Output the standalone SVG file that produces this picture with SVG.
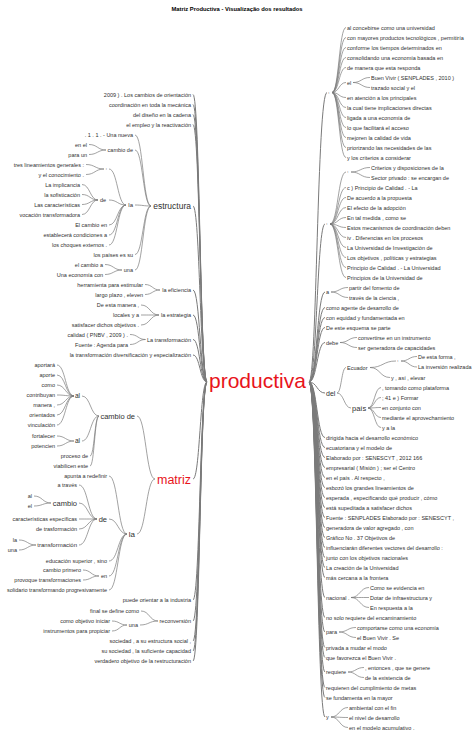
<svg xmlns="http://www.w3.org/2000/svg" width="474" height="738" viewBox="0 0 474 738">
<style>
.c{fill:none;stroke:#7a7a7a;stroke-width:.7}
.c1{stroke-width:1}
.t{font-family:"Liberation Sans",Arial,sans-serif;font-size:5.5px;fill:#303030}
.e{text-anchor:end}
.m{font-size:7.5px}
.red{fill:#e8141b}
.title{font-family:"Liberation Sans",Arial,sans-serif;font-size:5.8px;font-weight:bold;fill:#000;text-anchor:middle}
</style>
<rect width="474" height="738" fill="#fff"/>
<text class="title" x="237" y="11">Matriz Productiva - Visualização dos resultados</text>
<g id="connectors">
<path class="c c1" d="M309 382C317 382 317 92.5 327 92.5M309 382C317 382 317 224 325 224M309 382C317 382 317 292 325 292M309 382C317 382 317 307.5 325 307.5M309 382C317 382 317 317.5 325 317.5M309 382C317 382 317 327.5 325 327.5M309 382C317 382 317 342.5 325 342.5M309 382C317 382 317 393 325 393M309 382C317 382 317 437.5 325 437.5M309 382C317 382 317 447.5 325 447.5M309 382C317 382 317 457.5 325 457.5M309 382C317 382 317 467.5 325 467.5M309 382C317 382 317 477.5 325 477.5M309 382C317 382 317 487.5 325 487.5M309 382C317 382 317 497.5 325 497.5M309 382C317 382 317 507.5 325 507.5M309 382C317 382 317 517.5 325 517.5M309 382C317 382 317 527.5 325 527.5M309 382C317 382 317 537.5 325 537.5M309 382C317 382 317 547.5 325 547.5M309 382C317 382 317 557.5 325 557.5M309 382C317 382 317 567.5 325 567.5M309 382C317 382 317 577.5 325 577.5M309 382C317 382 317 597.5 325 597.5M309 382C317 382 317 617.5 325 617.5M309 382C317 382 317 632 325 632M309 382C317 382 317 647.5 325 647.5M309 382C317 382 317 657.5 325 657.5M309 382C317 382 317 672 325 672M309 382C317 382 317 687.5 325 687.5M309 382C317 382 317 697.5 325 697.5M309 382C317 382 317 717 325 717"/>
<path class="c" d="M332 92.5C339 92.5 339 27.5 346 27.5M332 92.5C339 92.5 339 37.5 346 37.5M332 92.5C339 92.5 339 47.5 346 47.5M332 92.5C339 92.5 339 57.5 346 57.5M332 92.5C339 92.5 339 67.5 346 67.5M332 92.5C339 92.5 339 82.5 346 82.5M332 92.5C339 92.5 339 97.5 346 97.5M332 92.5C339 92.5 339 107.5 346 107.5M332 92.5C339 92.5 339 117.5 346 117.5M332 92.5C339 92.5 339 127.5 346 127.5M332 92.5C339 92.5 339 137.5 346 137.5M332 92.5C339 92.5 339 147.5 346 147.5M332 92.5C339 92.5 339 157.5 346 157.5"/>
<path class="c" d="M353 82.5C361.5 82.5 361.5 77.5 370 77.5M353 82.5C361.5 82.5 361.5 87.5 370 87.5"/>
<path class="c" d="M330 224C338 224 338 172 346 172M330 224C338 224 338 187.5 346 187.5M330 224C338 224 338 197.5 346 197.5M330 224C338 224 338 207.5 346 207.5M330 224C338 224 338 217.5 346 217.5M330 224C338 224 338 227.5 346 227.5M330 224C338 224 338 237.5 346 237.5M330 224C338 224 338 247.5 346 247.5M330 224C338 224 338 257.5 346 257.5M330 224C338 224 338 267.5 346 267.5M330 224C338 224 338 277.5 346 277.5"/>
<path class="c" d="M351 172C360.5 172 360.5 167.5 370 167.5M351 172C360.5 172 360.5 177.5 370 177.5"/>
<path class="c" d="M331 292C339.5 292 339.5 287.5 348 287.5M331 292C339.5 292 339.5 297.5 348 297.5"/>
<path class="c" d="M340 342.5C348.5 342.5 348.5 337.5 357 337.5M340 342.5C348.5 342.5 348.5 347.5 357 347.5"/>
<path class="c" d="M337 393C341.5 393 341.5 367.5 346 367.5M337 393C344 393 344 408 351 408"/>
<path class="c" d="M370 367.5C383 367.5 383 361 396 361M370 367.5C380 367.5 380 377.5 390 377.5"/>
<path class="c" d="M401 361C409 361 409 356.5 417 356.5M401 361C409 361 409 367 417 367"/>
<path class="c" d="M368 408C374.5 408 374.5 387.5 381 387.5M368 408C374.5 408 374.5 397.5 381 397.5M368 408C374.5 408 374.5 407.5 381 407.5M368 408C374.5 408 374.5 417.5 381 417.5M368 408C374.5 408 374.5 427.5 381 427.5"/>
<path class="c" d="M351 597.5C360 597.5 360 587.5 369 587.5M351 597.5C360 597.5 360 597.5 369 597.5M351 597.5C360 597.5 360 607.5 369 607.5"/>
<path class="c" d="M339 632C347.5 632 347.5 627.5 356 627.5M339 632C347.5 632 347.5 637.5 356 637.5"/>
<path class="c" d="M348 672C356 672 356 667.5 364 667.5M348 672C356 672 356 677.5 364 677.5"/>
<path class="c" d="M331 717C339.5 717 339.5 707.5 348 707.5M331 717C339.5 717 339.5 717.5 348 717.5M331 717C339.5 717 339.5 727.5 348 727.5"/>
<path class="c c1" d="M207 382C200 382 200 94.5 193 94.5M207 382C200 382 200 104.5 193 104.5M207 382C200 382 200 114.5 193 114.5M207 382C200 382 200 124.5 193 124.5M207 382C200 382 200 206 193 206M207 382C200 382 200 290 193 290M207 382C200 382 200 315 193 315M207 382C200 382 200 339.5 193 339.5M207 382C200 382 200 355 193 355M207 382C200 382 200 479 193 479M207 382C200 382 200 600 193 600M207 382C200 382 200 621 193 621M207 382C200 382 200 641 193 641M207 382C200 382 200 651 193 651M207 382C200 382 200 661 193 661"/>
<path class="c" d="M151 206C143 206 143 135 135 135M151 206C143 206 143 150 135 150M151 206C143 206 143 205 135 205M151 206C143 206 143 254.5 135 254.5M151 206C143 206 143 270 135 270"/>
<path class="c" d="M106 150C97.5 150 97.5 144.5 89 144.5M106 150C97.5 150 97.5 154.5 89 154.5"/>
<path class="c" d="M126 205C117.5 205 117.5 169 109 169M126 205C117.5 205 117.5 200 109 200M126 205C117.5 205 117.5 225 109 225M126 205C117.5 205 117.5 235 109 235M126 205C117.5 205 117.5 245 109 245"/>
<path class="c" d="M104 169C95 169 95 164.5 86 164.5M104 169C95 169 95 174.5 86 174.5"/>
<path class="c" d="M98 200C90 200 90 184.5 82 184.5M98 200C90 200 90 194.5 82 194.5M98 200C90 200 90 204.5 82 204.5M98 200C90 200 90 214.5 82 214.5"/>
<path class="c" d="M122 270C113.5 270 113.5 264.5 105 264.5M122 270C113.5 270 113.5 274.5 105 274.5"/>
<path class="c" d="M160 290C152.5 290 152.5 284.5 145 284.5M160 290C152.5 290 152.5 294.5 145 294.5"/>
<path class="c" d="M159 315C150 315 150 305 141 305M159 315C150 315 150 315 141 315M159 315C150 315 150 325 141 325"/>
<path class="c" d="M145.5 339.5C138 339.5 138 334.5 130 334.5M145.5 339.5C138 339.5 138 344.5 130 344.5"/>
<path class="c" d="M155 479C146 479 146 416 137 416M155 479C146 479 146 534 137 534"/>
<path class="c" d="M99 416C90.5 416 90.5 396 82 396M99 416C90.5 416 90.5 441 82 441M99 416C94.5 416 94.5 456 90 456M99 416C94.5 416 94.5 466 90 466"/>
<path class="c" d="M74 396C65.5 396 65.5 365 57 365M74 396C65.5 396 65.5 375 57 375M74 396C65.5 396 65.5 385 57 385M74 396C65.5 396 65.5 395 57 395M74 396C65.5 396 65.5 405 57 405M74 396C65.5 396 65.5 415 57 415M74 396C65.5 396 65.5 425 57 425"/>
<path class="c" d="M74 441C65.5 441 65.5 436 57 436M74 441C65.5 441 65.5 446 57 446"/>
<path class="c" d="M127 534C118 534 118 476 109 476M127 534C118 534 118 519 109 519M127 534C118 534 118 561 109 561M127 534C118 534 118 576 109 576M127 534C118 534 118 590 109 590"/>
<path class="c" d="M97 519C88 519 88 485 79 485M97 519C88 519 88 503 79 503M97 519C88 519 88 519 79 519M97 519C88 519 88 529 79 529M97 519C88 519 88 545 79 545"/>
<path class="c" d="M51 503C42.5 503 42.5 496 34 496M51 503C42.5 503 42.5 506 34 506"/>
<path class="c" d="M36 545C27.5 545 27.5 540 19 540M36 545C27.5 545 27.5 550 19 550"/>
<path class="c" d="M99 576C91 576 91 570 83 570M99 576C91 576 91 580 83 580"/>
<path class="c" d="M158 621C149.5 621 149.5 611 141 611M158 621C149 621 149 625 140 625"/>
<path class="c" d="M127 625C119.5 625 119.5 621 112 621M127 625C119.5 625 119.5 631 112 631"/>
</g>
<g id="center"><text x="209" y="388" class="red" style="font-family:'Liberation Sans',Arial,sans-serif;font-size:21px">productiva</text></g>
<g id="r1"><text class="t" x="328" y="92.5">,</text></g>
<g id="r1a"><text class="t" x="347" y="29.5">al concebirse como una universidad</text></g>
<g id="r1b"><text class="t" x="347" y="39.5">con mayores productos tecnológicos , permitiría</text></g>
<g id="r1c"><text class="t" x="347" y="49.5">conforme los tiempos determinados en</text></g>
<g id="r1d"><text class="t" x="347" y="59.5">consolidando una economía basada en</text></g>
<g id="r1e"><text class="t" x="347" y="69.5">de manera que esta responda</text></g>
<g id="r1f"><text class="t" x="347" y="84.5">el</text></g>
<g id="r1f1"><text class="t" x="371" y="79.5">Buen Vivir ( SENPLADES , 2010 )</text></g>
<g id="r1f2"><text class="t" x="371" y="89.5">trazado social y el</text></g>
<g id="r1g"><text class="t" x="347" y="99.5">en atención a los principales</text></g>
<g id="r1h"><text class="t" x="347" y="109.5">la cual tiene implicaciones directas</text></g>
<g id="r1i"><text class="t" x="347" y="119.5">ligada a una economía de</text></g>
<g id="r1j"><text class="t" x="347" y="129.5">lo que facilitará el acceso</text></g>
<g id="r1k"><text class="t" x="347" y="139.5">mejoren la calidad de vida</text></g>
<g id="r1l"><text class="t" x="347" y="149.5">priorizando las necesidades de las</text></g>
<g id="r1m"><text class="t" x="347" y="159.5">y los criterios a considerar</text></g>
<g id="r2"><text class="t" x="326" y="224">,</text></g>
<g id="r2a"><text class="t" x="347" y="172">,</text></g>
<g id="r2a1"><text class="t" x="371" y="169.5">Criterios y disposiciones de la</text></g>
<g id="r2a2"><text class="t" x="371" y="179.5">Sector privado : se encargan de</text></g>
<g id="r2b"><text class="t" x="347" y="189.5">c ) Principio de Calidad . - La</text></g>
<g id="r2c"><text class="t" x="347" y="199.5">De acuerdo a la propuesta</text></g>
<g id="r2d"><text class="t" x="347" y="209.5">El efecto de la adopción</text></g>
<g id="r2e"><text class="t" x="347" y="219.5">En tal medida , como se</text></g>
<g id="r2f"><text class="t" x="347" y="229.5">Estos mecanismos de coordinación deben</text></g>
<g id="r2g"><text class="t" x="347" y="239.5">iv . Diferencias en los procesos</text></g>
<g id="r2h"><text class="t" x="347" y="249.5">La Universidad de Investigación de</text></g>
<g id="r2i"><text class="t" x="347" y="259.5">Los objetivos , políticas y estrategias</text></g>
<g id="r2j"><text class="t" x="347" y="269.5">Principio de Calidad . - La Universidad</text></g>
<g id="r2k"><text class="t" x="347" y="279.5">Principios de la Universidad de</text></g>
<g id="r3"><text class="t" x="326" y="294">a</text></g>
<g id="r3a"><text class="t" x="349" y="289.5">partir del fomento de</text></g>
<g id="r3b"><text class="t" x="349" y="299.5">través de la ciencia ,</text></g>
<g id="r4"><text class="t" x="326" y="309.5">como agente de desarrollo de</text></g>
<g id="r5"><text class="t" x="326" y="319.5">con equidad y fundamentada en</text></g>
<g id="r6"><text class="t" x="326" y="329.5">De este esquema se parte</text></g>
<g id="r7"><text class="t" x="326" y="344.5">debe</text></g>
<g id="r7a"><text class="t" x="358" y="339.5">convertirse en un instrumento</text></g>
<g id="r7b"><text class="t" x="358" y="349.5">ser generadora de capacidades</text></g>
<g id="r8"><text class="t" x="326" y="395.5" style="font-size:7px">del</text></g>
<g id="r8a"><text class="t" x="347" y="369.5">Ecuador</text></g>
<g id="r8a1"><text class="t" x="397" y="361">,</text></g>
<g id="r8a1a"><text class="t" x="418" y="358.5">De esta forma ,</text></g>
<g id="r8a1b"><text class="t" x="418" y="369">La inversión realizada</text></g>
<g id="r8a2"><text class="t" x="391" y="379.5">y , así , elevar</text></g>
<g id="r8b"><text class="t" x="352" y="410.7" style="font-size:7.5px">país</text></g>
<g id="r8b1"><text class="t" x="382" y="389.5">, tomando como plataforma</text></g>
<g id="r8b2"><text class="t" x="382" y="399.5">; 41 e ) Formar</text></g>
<g id="r8b3"><text class="t" x="382" y="409.5">en conjunto con</text></g>
<g id="r8b4"><text class="t" x="382" y="419.5">mediante el aprovechamiento</text></g>
<g id="r8b5"><text class="t" x="382" y="429.5">y a la</text></g>
<g id="r9"><text class="t" x="326" y="439.5">dirigida hacia el desarrollo económico</text></g>
<g id="r10"><text class="t" x="326" y="449.5">ecuatoriana y el modelo de</text></g>
<g id="r11"><text class="t" x="326" y="459.5">Elaborado por : SENESCYT , 2012 166</text></g>
<g id="r12"><text class="t" x="326" y="469.5">empresarial ( Misión ) ; ser el Centro</text></g>
<g id="r13"><text class="t" x="326" y="479.5">en el país . Al respecto ,</text></g>
<g id="r14"><text class="t" x="326" y="489.5">esbozó los grandes lineamientos de</text></g>
<g id="r15"><text class="t" x="326" y="499.5">esperada , especificando qué producir , cómo</text></g>
<g id="r16"><text class="t" x="326" y="509.5">está supeditada a satisfacer dichos</text></g>
<g id="r17"><text class="t" x="326" y="519.5">Fuente : SENPLADES Elaborado por : SENESCYT ,</text></g>
<g id="r18"><text class="t" x="326" y="529.5">generadora de valor agregado , con</text></g>
<g id="r19"><text class="t" x="326" y="539.5">Gráfico No . 37 Objetivos de</text></g>
<g id="r20"><text class="t" x="326" y="549.5">influenciarán diferentes vectores del desarrollo :</text></g>
<g id="r21"><text class="t" x="326" y="559.5">junto con los objetivos nacionales</text></g>
<g id="r22"><text class="t" x="326" y="569.5">La creación de la Universidad</text></g>
<g id="r23"><text class="t" x="326" y="579.5">más cercana a la frontera</text></g>
<g id="r24"><text class="t" x="326" y="599.5">nacional .</text></g>
<g id="r24a"><text class="t" x="370" y="589.5">Como se evidencia en</text></g>
<g id="r24b"><text class="t" x="370" y="599.5">Dotar de infraestructura y</text></g>
<g id="r24c"><text class="t" x="370" y="609.5">En respuesta a la</text></g>
<g id="r25"><text class="t" x="326" y="619.5">no solo requiere del encaminamiento</text></g>
<g id="r26"><text class="t" x="326" y="634">para</text></g>
<g id="r26a"><text class="t" x="357" y="629.5">comportarse como una economía</text></g>
<g id="r26b"><text class="t" x="357" y="639.5">el Buen Vivir . Se</text></g>
<g id="r27"><text class="t" x="326" y="649.5">privada a mudar el modo</text></g>
<g id="r28"><text class="t" x="326" y="659.5">que favorezca el Buen Vivir .</text></g>
<g id="r29"><text class="t" x="326" y="674">requiere</text></g>
<g id="r29a"><text class="t" x="365" y="669.5">, entonces , que se genere</text></g>
<g id="r29b"><text class="t" x="365" y="679.5">de la existencia de</text></g>
<g id="r30"><text class="t" x="326" y="689.5">requieren del cumplimiento de metas</text></g>
<g id="r31"><text class="t" x="326" y="699.5">se fundamenta en la mayor</text></g>
<g id="r32"><text class="t" x="326" y="719">y</text></g>
<g id="r32a"><text class="t" x="349" y="709.5">ambiental con el fin</text></g>
<g id="r32b"><text class="t" x="349" y="719.5">el nivel de desarrollo</text></g>
<g id="r32c"><text class="t" x="349" y="729.5">en el modelo acumulativo .</text></g>
<g id="l1"><text class="t e" x="191" y="96.5">2009 ) . Los cambios de orientación</text></g>
<g id="l2"><text class="t e" x="191" y="106.5">coordinación en toda la mecánica</text></g>
<g id="l3"><text class="t e" x="191" y="116.5">del diseño en la cadena</text></g>
<g id="l4"><text class="t e" x="191" y="126.5">el empleo y la reactivación</text></g>
<g id="l5"><text class="t e" x="191" y="209" style="font-size:8.5px">estructura</text></g>
<g id="l5a"><text class="t e" x="133" y="137">. 1 . 1 . - Una nueva</text></g>
<g id="l5b"><text class="t e" x="133" y="152">cambio de</text></g>
<g id="l5b1"><text class="t e" x="87" y="146.5">en el</text></g>
<g id="l5b2"><text class="t e" x="87" y="156.5">para un</text></g>
<g id="l5c"><text class="t e" x="133" y="207.1" style="font-size:6px">la</text></g>
<g id="l5c1"><text class="t e" x="107" y="169">,</text></g>
<g id="l5c1a"><text class="t e" x="84" y="166.5">tres lineamientos generales :</text></g>
<g id="l5c1b"><text class="t e" x="84" y="176.5">y el conocimiento .</text></g>
<g id="l5c2"><text class="t e" x="106" y="202">de</text></g>
<g id="l5c2a"><text class="t e" x="80" y="186.5">La implicancia</text></g>
<g id="l5c2b"><text class="t e" x="80" y="196.5">la sofisticación</text></g>
<g id="l5c2c"><text class="t e" x="80" y="206.5">Las características</text></g>
<g id="l5c2d"><text class="t e" x="80" y="216.5">vocación transformadora</text></g>
<g id="l5c3"><text class="t e" x="107" y="227">El cambio en</text></g>
<g id="l5c4"><text class="t e" x="107" y="237">establecerá condiciones a</text></g>
<g id="l5c5"><text class="t e" x="107" y="247">los choques externos .</text></g>
<g id="l5d"><text class="t e" x="133" y="256.5">los países es su</text></g>
<g id="l5e"><text class="t e" x="133" y="272">una</text></g>
<g id="l5e1"><text class="t e" x="103" y="266.5">el cambio a</text></g>
<g id="l5e2"><text class="t e" x="103" y="276.5">Una economía con</text></g>
<g id="l6"><text class="t e" x="191" y="292">la eficiencia</text></g>
<g id="l6a"><text class="t e" x="143" y="286.5">herramienta para estimular</text></g>
<g id="l6b"><text class="t e" x="143" y="296.5">largo plazo , eleven</text></g>
<g id="l7"><text class="t e" x="191" y="317">la estrategia</text></g>
<g id="l7a"><text class="t e" x="139" y="307">De esta manera ,</text></g>
<g id="l7b"><text class="t e" x="139" y="317">locales y a</text></g>
<g id="l7c"><text class="t e" x="139" y="327">satisfacer dichos objetivos .</text></g>
<g id="l8"><text class="t e" x="191" y="341.5">La transformación</text></g>
<g id="l8a"><text class="t e" x="128" y="336.5">calidad ( PNBV , 2009 ) .</text></g>
<g id="l8b"><text class="t e" x="128" y="346.5">Fuente : Agenda para</text></g>
<g id="l9"><text class="t e" x="191" y="357">la transformación diversificación y especialización</text></g>
<g id="l10"><text class="t e red" x="191" y="483.5" style="font-size:12.5px">matriz</text></g>
<g id="l10a"><text class="t e m" x="135" y="418.7">cambio de</text></g>
<g id="l10a1"><text class="t e" x="80" y="398.3" style="font-size:6.5px">al</text></g>
<g id="l10a1a"><text class="t e" x="55" y="367">aportará</text></g>
<g id="l10a1b"><text class="t e" x="55" y="377">aporte</text></g>
<g id="l10a1c"><text class="t e" x="55" y="387">como</text></g>
<g id="l10a1d"><text class="t e" x="55" y="397">contribuyan</text></g>
<g id="l10a1e"><text class="t e" x="55" y="407">manera ,</text></g>
<g id="l10a1f"><text class="t e" x="55" y="417">orientados</text></g>
<g id="l10a1g"><text class="t e" x="55" y="427">vinculación</text></g>
<g id="l10a2"><text class="t e" x="80" y="443.3" style="font-size:6.5px">al</text></g>
<g id="l10a2a"><text class="t e" x="55" y="438">fortalecer</text></g>
<g id="l10a2b"><text class="t e" x="55" y="448">potencien</text></g>
<g id="l10a3"><text class="t e" x="88" y="458">proceso de</text></g>
<g id="l10a4"><text class="t e" x="88" y="468">viabilicen este</text></g>
<g id="l10b"><text class="t e" x="135" y="536.9" style="font-size:8px">la</text></g>
<g id="l10b1"><text class="t e" x="107" y="478">apunta a redefinir</text></g>
<g id="l10b2"><text class="t e m" x="107" y="521.7">de</text></g>
<g id="l10b2a"><text class="t e" x="77" y="487">a través</text></g>
<g id="l10b2b"><text class="t e m" x="77" y="505.7">cambio</text></g>
<g id="l10b2b1"><text class="t e" x="32" y="498">al</text></g>
<g id="l10b2b2"><text class="t e" x="32" y="508">el</text></g>
<g id="l10b2c"><text class="t e" x="77" y="521">características específicas</text></g>
<g id="l10b2d"><text class="t e" x="77" y="531">de trasformación</text></g>
<g id="l10b2e"><text class="t e" x="77" y="547.1" style="font-size:6px">transformación</text></g>
<g id="l10b2e1"><text class="t e" x="17" y="542">la</text></g>
<g id="l10b2e2"><text class="t e" x="17" y="552">una</text></g>
<g id="l10b3"><text class="t e" x="107" y="563">educación superior , sino</text></g>
<g id="l10b4"><text class="t e" x="107" y="578">en</text></g>
<g id="l10b4a"><text class="t e" x="81" y="572">cambio primero</text></g>
<g id="l10b4b"><text class="t e" x="81" y="582">provoque transformaciones</text></g>
<g id="l10b5"><text class="t e" x="107" y="592">solidario transformando progresivamente</text></g>
<g id="l11"><text class="t e" x="191" y="602">puede orientar a la industria</text></g>
<g id="l12"><text class="t e" x="191" y="623">reconversión</text></g>
<g id="l12a"><text class="t e" x="139" y="613">final se define como</text></g>
<g id="l12b"><text class="t e" x="138" y="627">una</text></g>
<g id="l12b1"><text class="t e" x="110" y="623">como objetivo iniciar</text></g>
<g id="l12b2"><text class="t e" x="110" y="633">instrumentos para propiciar</text></g>
<g id="l13"><text class="t e" x="191" y="643">sociedad , a su estructura social ,</text></g>
<g id="l14"><text class="t e" x="191" y="653">su sociedad , la suficiente capacidad</text></g>
<g id="l15"><text class="t e" x="191" y="663">verdadero objetivo de la restructuración</text></g>
</svg>
